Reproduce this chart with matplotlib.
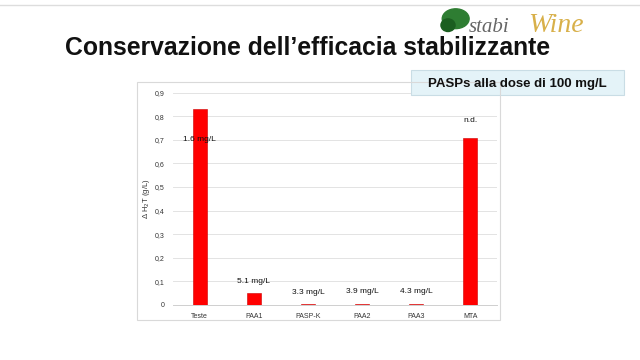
import matplotlib
matplotlib.use('Agg')
import matplotlib.pyplot as plt
from matplotlib.patches import Rectangle, FancyBboxPatch, Ellipse

categories = ['Teste', 'PAA1', 'PASP-K', 'PAA2', 'PAA3', 'MTA']
values = [0.83, 0.05, 0.002, 0.002, 0.002, 0.71]
labels = ['1.6 mg/L', '5.1 mg/L', '3.3 mg/L', '3.9 mg/L', '4.3 mg/L', 'n.d.']
label_y = [0.70, 0.10, 0.052, 0.055, 0.055, 0.78]
yticks = [0, 0.1, 0.2, 0.3, 0.4, 0.5, 0.6, 0.7, 0.8, 0.9]
ytick_labels = ['0', '0,1', '0,2', '0,3', '0,4', '0,5', '0,6', '0,7', '0,8', '0,9']

plt.rcParams['font.family'] = ['Liberation Sans', 'DejaVu Sans']

fig = plt.figure(figsize=(6.4, 3.6), dpi=100)
fig.patch.set_facecolor('white')

# slide decorations
fig.add_artist(plt.Line2D([0, 1], [0.985, 0.985], color='#dddddd', lw=1))
fig.text(0.102, 0.866, 'Conservazione dell\u2019efficacia stabilizzante',
         fontsize=17.8, fontweight='bold', va='center', ha='left', color='#111111')

# logo
fig.add_artist(Ellipse((0.712, 0.948), 0.042, 0.055, color='#2e7d32'))
fig.add_artist(Ellipse((0.700, 0.930), 0.022, 0.035, color='#1b5e20'))
fig.text(0.733, 0.925, 'stabi', fontsize=15, family='Liberation Serif',
         style='italic', color='#666666', va='center')
fig.text(0.826, 0.930, 'Wine', fontsize=20, family='Liberation Serif',
         style='italic', color='#d8b04a', va='center')

# highlighted box
box = FancyBboxPatch((0.642, 0.737), 0.333, 0.068, boxstyle='square,pad=0',
                     transform=fig.transFigure, facecolor='#e4f3f8',
                     edgecolor='#c9dde5', lw=0.8)
fig.add_artist(box)
fig.text(0.808, 0.768, 'PASPs alla dose di 100 mg/L', fontsize=9.5,
         fontweight='bold', ha='center', va='center', color='#111111')

# chart frame
fig.add_artist(Rectangle((0.214, 0.111), 0.567, 0.661, transform=fig.transFigure,
                         fill=False, edgecolor='#d9d9d9', lw=0.8))

ax = fig.add_axes([0.27, 0.153, 0.507, 0.5895])
x = list(range(len(categories)))
ax.bar(x, values, width=0.26, color='#ff0000', edgecolor='#cc0000', lw=0.4, zorder=3)
for xi, lab, ly in zip(x, labels, label_y):
    ax.text(xi, ly, lab, ha='center', va='center', fontsize=6,
            color='#111111', zorder=4)

ax.set_xlim(-0.5, len(categories) - 0.5)
ax.set_ylim(0, 0.9)
ax.set_yticks(yticks)
ax.set_yticklabels(ytick_labels)
ax.set_xticks(x)
ax.set_xticklabels(categories)
ax.tick_params(axis='both', length=0, labelsize=5, colors='#333333', pad=6)
ax.grid(axis='y', color='#e3e3e3', lw=0.7, zorder=0)
for s in ['top', 'right', 'left']:
    ax.spines[s].set_visible(False)
ax.spines['bottom'].set_color('#cfcfcf')
ax.spines['bottom'].set_linewidth(0.7)
ax.set_ylabel('\u0394 H$_2$T (g/L)', fontsize=5.5, color='#333333', labelpad=2)

fig.savefig('out.png', dpi=100)
